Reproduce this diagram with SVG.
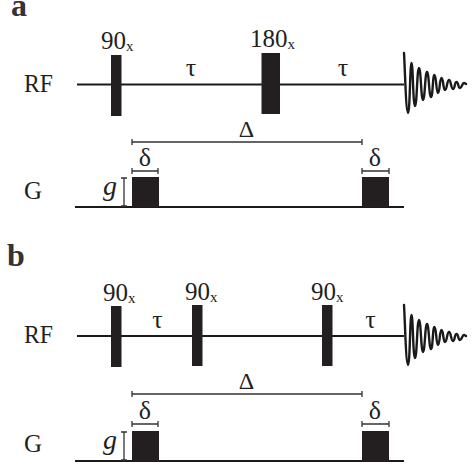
<svg xmlns="http://www.w3.org/2000/svg" width="474" height="474" viewBox="0 0 474 474">
<defs>
<style>
text{font-family:"Liberation Serif","Times New Roman",serif;fill:#231f20}
.t{font-size:25px}
.s{font-size:15px}
.p{font-size:26px;text-anchor:middle}
.h{font-size:32px;font-weight:bold;fill:#333}
.d{font-size:24px;text-anchor:middle}
.i{font-size:28px;font-style:italic}
.base{stroke:#1a1a1a;stroke-width:2.2;fill:none}
.br{stroke:#333;stroke-width:1.3;fill:none}
.fid{stroke:#1a1a1a;stroke-width:2.4;fill:none;stroke-linejoin:round;stroke-linecap:round}
.b{fill:#231f20}
</style>
<path id="fid" class="fid" d="M404 53C405 70 406 113 408 113C410 113 410 63 411.500 63C413 63 413 106 415 106C417 106 417 68 419 68C421 68 421 100 423 100C425 100 425 72 427 72C429 72 429 97 431 97C433 97 432.500 75 434.500 75C436.500 75 436 93 438 93C440 93 439.500 78 441.500 78C443.500 78 443 90 445 90C447 90 447 80 449 80C451 80 451 89 453 89C455 89 454.500 82 456.500 82C458.500 82 458 88 460 88C462 88 462 83 464 83C465 83 465.500 84 466 84"/>
</defs>
<rect width="474" height="474" fill="#fff"/>
<g id="connectors">
<path class="base" d="M77 84.500H404M75 207H404M77 336H404M75 461H404"/>
<use href="#fid"/>
<use href="#fid" y="252"/>
<path class="br" d="M132 142H362M132 139V145M362 139V145M132 171H158M132 168V174M158 168V174M362 171H389M362 168V174M389 168V174M124 178V207M121 178H127M121 206H127"/>
<path class="br" d="M132 394H362M132 391V397M362 391V397M132 424H158M132 421V427M158 421V427M362 424H389M362 421V427M389 421V427M124 432V461M121 432H127M121 460H127"/>
</g>
<g id="panel-a">
<text class="h" x="11" y="16">a</text>
<text class="t" x="24" y="92" textLength="29" lengthAdjust="spacingAndGlyphs">RF</text>
<text class="t" x="24" y="199">G</text>
<g id="a-p1"><rect class="b" x="111" y="55" width="10.500" height="61"/><text class="t" x="101" y="49">90<tspan class="s" dy="2">x</tspan></text></g>
<g id="a-p2"><rect class="b" x="261.500" y="53" width="18.500" height="61"/><text class="t" x="250" y="47">180<tspan class="s" dy="2">x</tspan></text></g>
<g id="a-tau1"><text class="p" x="191" y="76">τ</text></g>
<g id="a-tau2"><text class="p" x="343" y="76">τ</text></g>
<g id="a-g1"><rect class="b" x="132" y="177" width="27" height="30"/><text class="p" x="145" y="166">δ</text></g>
<g id="a-g2"><rect class="b" x="362" y="177" width="27" height="30"/><text class="p" x="375" y="166">δ</text></g>
<text class="d" x="246.500" y="137">Δ</text>
<text class="i" x="103" y="195">g</text>
</g>
<g id="panel-b">
<text class="h" x="7" y="266">b</text>
<text class="t" x="24" y="343" textLength="29" lengthAdjust="spacingAndGlyphs">RF</text>
<text class="t" x="24" y="452">G</text>
<g id="b-p1"><rect class="b" x="111" y="306" width="10.500" height="61"/><text class="t" x="103" y="301">90<tspan class="s" dy="2">x</tspan></text></g>
<g id="b-p2"><rect class="b" x="192" y="305" width="10.500" height="61"/><text class="t" x="185" y="300">90<tspan class="s" dy="2">x</tspan></text></g>
<g id="b-p3"><rect class="b" x="322" y="305" width="10.500" height="61"/><text class="t" x="311" y="300">90<tspan class="s" dy="2">x</tspan></text></g>
<g id="b-tau1"><text class="p" x="157.500" y="328">τ</text></g>
<g id="b-tau2"><text class="p" x="370.500" y="328">τ</text></g>
<g id="b-g1"><rect class="b" x="132" y="431" width="27" height="30"/><text class="p" x="145" y="419">δ</text></g>
<g id="b-g2"><rect class="b" x="362" y="431" width="27" height="30"/><text class="p" x="375" y="419">δ</text></g>
<text class="d" x="246.500" y="389">Δ</text>
<text class="i" x="103" y="449">g</text>
</g>
</svg>
